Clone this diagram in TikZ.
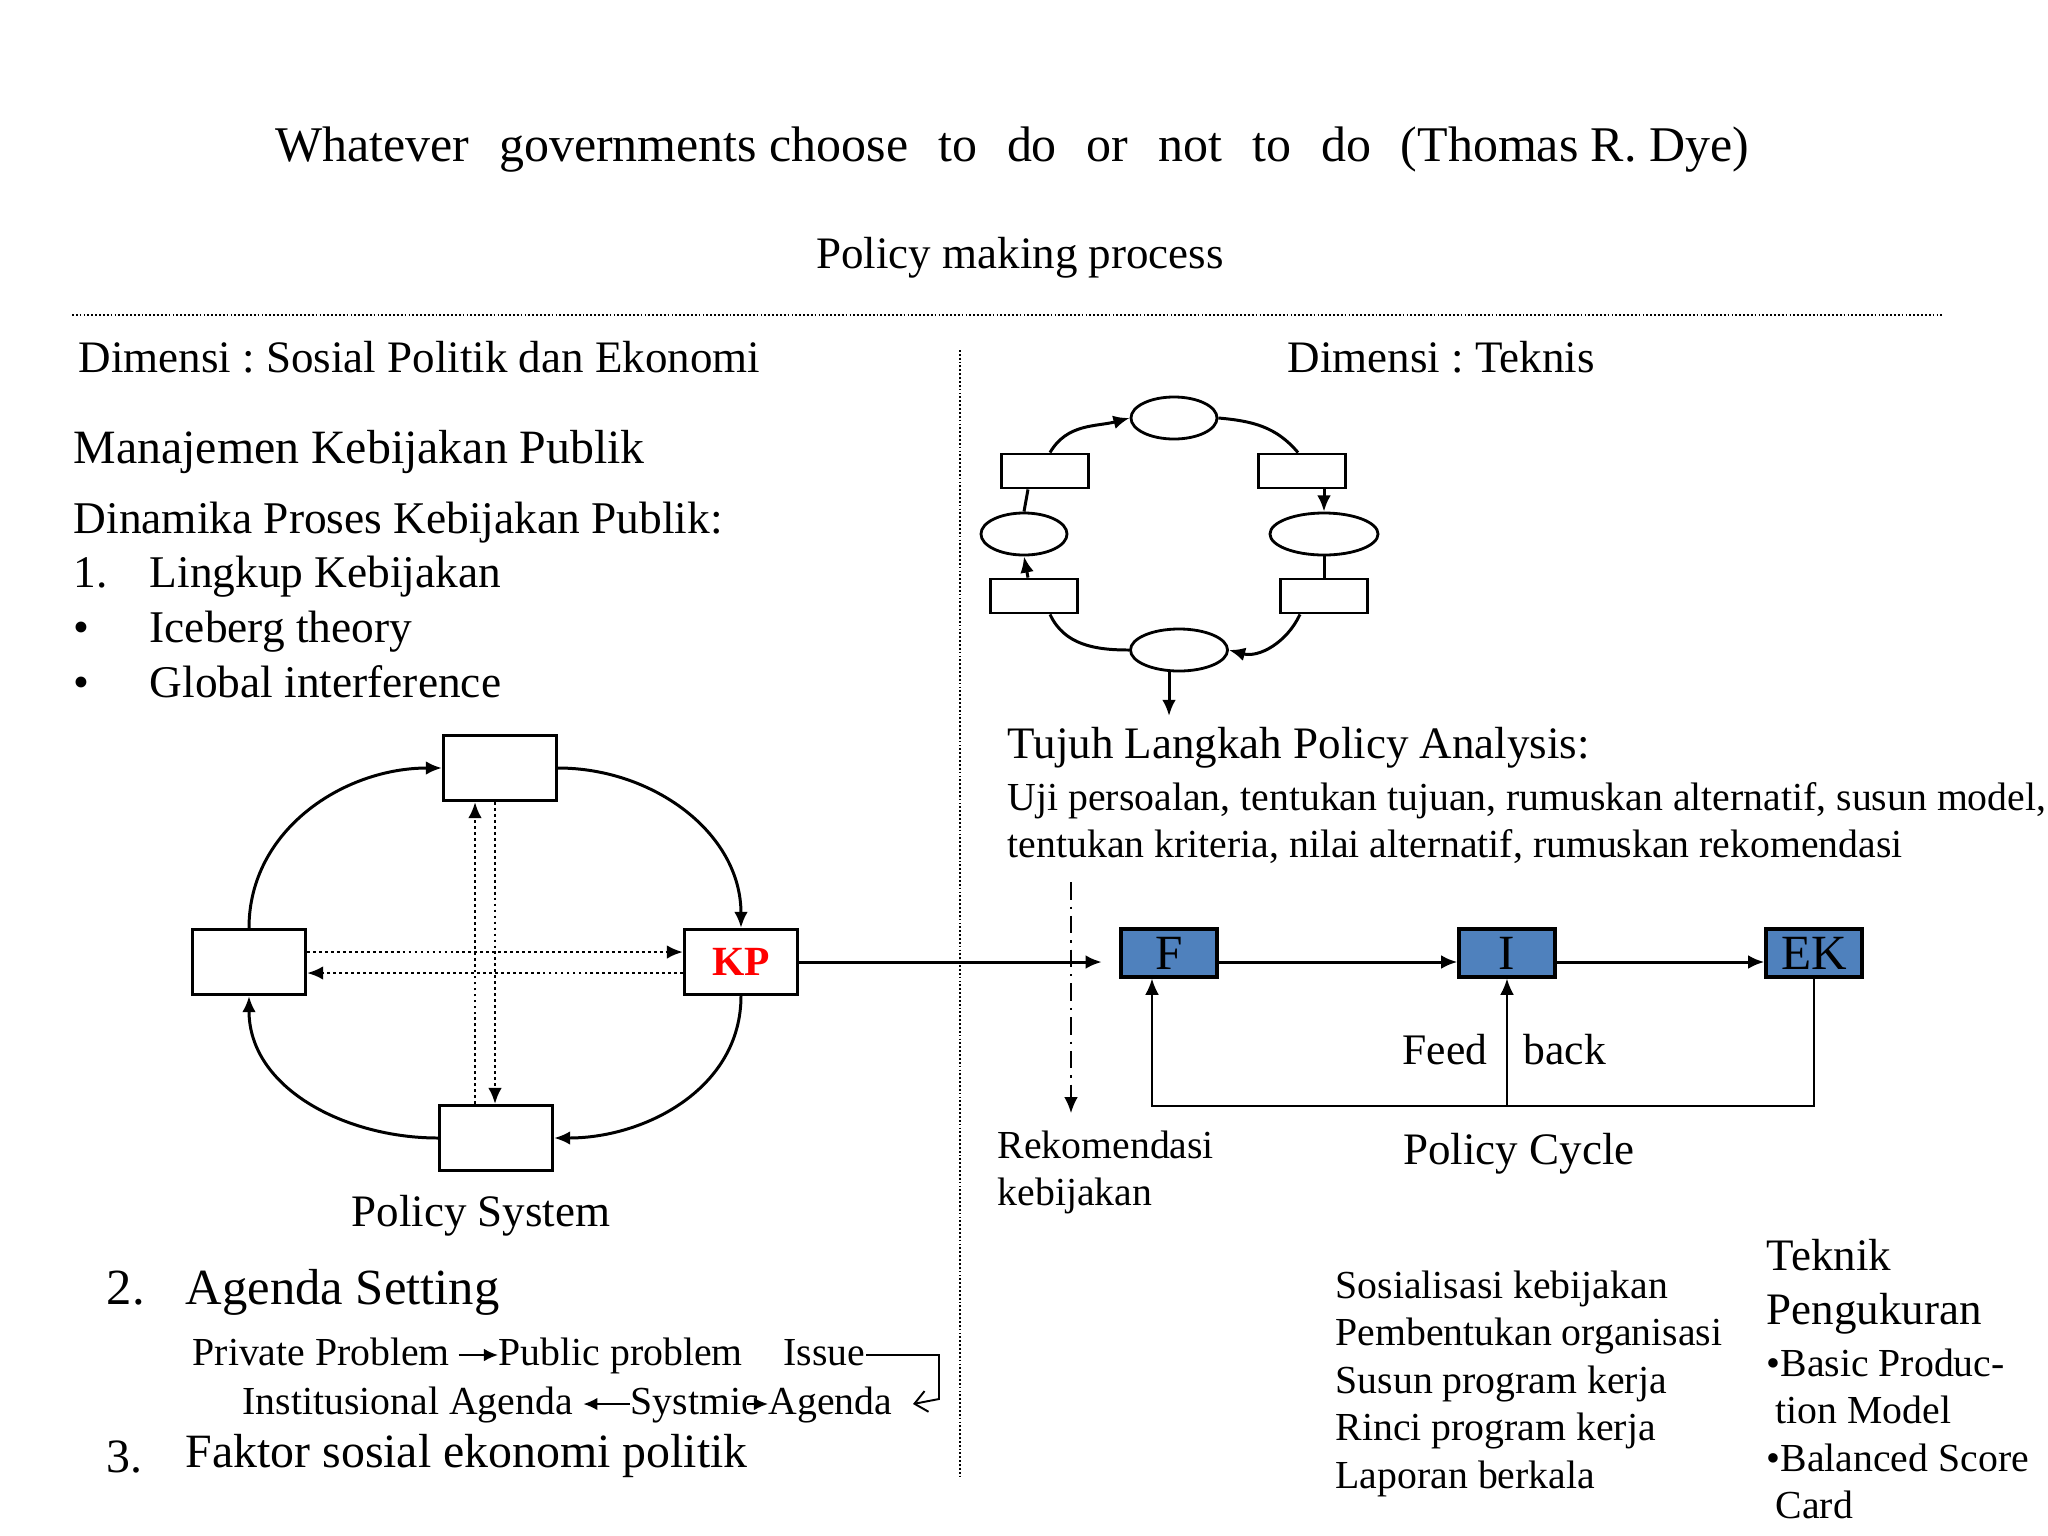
\documentclass[tikz,border=0pt]{standalone}
\usepackage{fontspec}
\setmainfont{Liberation Serif}
\usepackage{tikz}
\usetikzlibrary{arrows.meta,calc,positioning,shapes.geometric}
\frenchspacing

\definecolor{stageblue}{HTML}{4F81BD}
\newcommand{\szTitle}{\fontsize{14.2}{17}\selectfont}
\newcommand{\szHead}{\fontsize{12.8}{15}\selectfont}
\newcommand{\szBig}{\fontsize{13.6}{16}\selectfont}
\newcommand{\szList}{\fontsize{12.9}{15}\selectfont}
\newcommand{\szAgenda}{\fontsize{14.4}{17}\selectfont}
\newcommand{\szSmall}{\fontsize{11.3}{13.5}\selectfont}
\newcommand{\wgap}{\hspace{0.6em}}

\begin{document}
\begin{tikzpicture}[x=0.01cm, y=0.01cm, >={Latex[length=4.6pt,width=3.9pt]},
  lbl/.style={inner sep=0pt, anchor=west, text height=1.5ex, text depth=.25ex, yshift=-0.05cm},
  ctxt/.style={inner sep=0pt, text height=1.5ex, text depth=.25ex, yshift=-0.05cm},
  sysbox/.style={draw, line width=0.85pt, minimum width=1.13cm, minimum height=0.65cm, inner sep=0pt},
  cycbox/.style={draw, line width=0.8pt, minimum width=0.87cm, minimum height=0.34cm, inner sep=0pt},
  cycell/.style={draw, ellipse, line width=0.8pt, minimum height=0.42cm, inner sep=0pt},
  stagebox/.style={draw, line width=0.9pt, fill=stageblue, minimum width=0.96cm, minimum height=0.48cm,
                   inner sep=0pt, font=\fontsize{14}{16}\selectfont},
  link/.style={line width=0.85pt},
  fbline/.style={line width=0.55pt},
  dotline/.style={line width=0.8pt, dash pattern=on 0.8pt off 0.9pt},
  sepline/.style={line width=0.5pt, dash pattern=on 0.5pt off 0.6pt},
  smalltip/.style={-{Latex[length=4pt,width=3.6pt]}}]

  \path[use as bounding box, fill=white] (0,0) rectangle (2048,-1536);

  % heading
  \node[ctxt, font=\szTitle] (title) at (1012,-146)
    {Whatever\wgap governments choose\wgap to\wgap do\wgap or\wgap not\wgap to\wgap do\wgap (Thomas R. Dye)};
  \node[ctxt, font=\szHead] (pmp) at (1020,-253) {Policy making process};
  \coordinate (sepL) at (72,-315);
  \coordinate (sepR) at (1942,-315);
  \draw[sepline] (sepL) -- (sepR);
  \coordinate (midT) at (960,-350);
  \coordinate (midB) at (960,-1476);
  \draw[sepline] (midT) -- (midB);

  % left column
  \node[lbl, font=\szHead] (dimL) at (78,-357) {Dimensi : Sosial Politik dan Ekonomi};
  \node[lbl, font=\szBig] (mkp) at (73,-448) {Manajemen Kebijakan Publik};
  \node[lbl, font=\szList] (dpk) at (73,-518) {Dinamika Proses Kebijakan Publik:};
  \node[lbl, font=\szList] (n1) at (73,-572) {1.};
  \node[lbl, font=\szList] (lk) at (149,-572) {Lingkup Kebijakan};
  \node[lbl, font=\szList] (b1) at (73,-627) {\textbullet};
  \node[lbl, font=\szList] (ice) at (149,-627) {Iceberg theory};
  \node[lbl, font=\szList] (b2) at (73,-682) {\textbullet};
  \node[lbl, font=\szList] (gi) at (149,-682) {Global interference};

  % policy system
  \node[sysbox] (psTop) at (500,-768) {};
  \node[sysbox] (psLeft) at (249,-962) {};
  \node[sysbox, font=\bfseries\fontsize{11.8}{14}\selectfont, text=red] (kp) at (741,-962) {KP};
  \node[sysbox] (psBot) at (496,-1138) {};
  \draw[link,->] (psLeft.north) to[out=90,in=180] (psTop.west);
  \draw[link,->] (psTop.east) to[out=0,in=90] (kp.north);
  \draw[link,->] (kp.south) to[out=-90,in=0] (psBot.east);
  \draw[link,->] (psBot.west) to[out=180,in=-90] (psLeft.south);
  \coordinate (vUp) at (475,0);
  \coordinate (vDn) at (495,0);
  \coordinate (hRt) at (0,-952);
  \coordinate (hLt) at (0,-973);
  \draw[dotline,->] (psBot.north -| vUp) -- (psTop.south -| vUp);
  \draw[dotline,->] (psTop.south -| vDn) -- (psBot.north -| vDn);
  \draw[dotline,->] (psLeft.east |- hRt) -- (kp.west |- hRt);
  \draw[dotline,->] (kp.west |- hLt) -- (psLeft.east |- hLt);
  \node[ctxt, font=\szHead] (psys) at (481,-1211) {Policy System};

  % agenda setting
  \node[lbl, font=\szAgenda] (n2) at (106,-1289) {2.};
  \node[lbl, font=\szAgenda] (ags) at (185,-1289) {Agenda Setting};
  \node[lbl, font=\szSmall] (priv) at (192,-1350) {Private Problem};
  \node[lbl, font=\szSmall] (pub) at (498,-1350) {Public problem};
  \node[lbl, font=\szSmall] (issue) at (783,-1350) {Issue};
  \node[lbl, font=\szSmall] (inst) at (242,-1399) {Institusional Agenda};
  \node[lbl, font=\szSmall] (sysm) at (630,-1399) {Systmic};
  \node[lbl, font=\szSmall] (sagd) at (768,-1399) {Agenda};
  \coordinate (brk) at (939,-1399);
  \draw[fbline,smalltip] ([xshift=0.08cm]priv.east) -- (pub.west);
  \draw[fbline,smalltip] (sysm.west) -- ([xshift=0.1cm]inst.east);
  \draw[fbline,smalltip] ([xshift=-0.12cm]sysm.east) -- (sagd.west);
  \draw[fbline,-{Straight Barb[length=3.5pt,width=6pt]}] (issue.east) -- (issue.east -| brk) -- (brk)
    -- ([xshift=0.2cm]sagd.east);
  \node[lbl, font=\szBig] (n3) at (106,-1457) {3.};
  \node[lbl, font=\szBig] (fsep) at (185,-1452) {Faktor sosial ekonomi politik};

  % right column: analysis cycle
  \node[ctxt, font=\szHead] (dimR) at (1441,-357) {Dimensi : Teknis};
  \node[cycell, minimum width=0.86cm] (cTop) at (1174,-418) {};
  \node[cycbox] (cRtTop) at (1302,-471) {};
  \node[cycell, minimum width=1.08cm] (cRt) at (1324,-534) {};
  \node[cycbox] (cRtBot) at (1324,-596) {};
  \node[cycell, minimum width=0.97cm] (cBot) at (1179,-650) {};
  \node[cycbox] (cLtBot) at (1034,-596) {};
  \node[cycell, minimum width=0.86cm] (cLt) at (1024,-534) {};
  \node[cycbox] (cLtTop) at (1045,-471) {};
  \draw[link,->] ([xshift=0.05cm]cLtTop.north) to[out=60,in=195] (cTop.west);
  \draw[link] (cTop.east) to[out=-5,in=130] ([xshift=-0.04cm]cRtTop.north);
  \draw[link,->] (cRt.north |- cRtTop.south) -- (cRt.north);
  \draw[link] (cRt.south) -- (cRtBot.north);
  \draw[link,->] ([xshift=-0.24cm]cRtBot.south) to[out=-115,in=-15] (cBot.east);
  \draw[link] (cBot.west) to[out=180,in=-65] ([xshift=0.16cm]cLtBot.south);
  \draw[link,->] ([xshift=-0.06cm]cLtBot.north) -- (cLt.south);
  \draw[link] (cLt.north) -- ([xshift=-0.17cm]cLtTop.south);
  \coordinate (tlEnd) at (1169,-716);
  \draw[link,->] (cBot.south -| tlEnd) -- (tlEnd);

  \node[lbl, font=\szHead] (tla) at (1007,-743) {Tujuh Langkah Policy Analysis:};
  \node[lbl, font=\szSmall] (uji1) at (1007,-795) {Uji persoalan, tentukan tujuan, rumuskan alternatif, susun model,};
  \node[lbl, font=\szSmall] (uji2) at (1007,-842) {tentukan kriteria, nilai alternatif, rumuskan rekomendasi};

  % policy cycle
  \node[stagebox] (stF) at (1169,-953) {F};
  \node[stagebox] (stI) at (1507,-953) {I};
  \node[stagebox] (stEK) at (1814,-953) {EK};
  \draw[link,->,shorten >=5pt] (kp.east) -- (kp.east -| stF.west);
  \draw[link,->] (stF.east |- kp) -- (stI.west |- kp);
  \draw[link,->] (stI.east |- kp) -- (stEK.west |- kp);
  \coordinate (fbF) at (1152,-1106);
  \draw[fbline,->] (stEK.south) |- (fbF) -- (fbF |- stF.south);
  \draw[fbline,->] (stI.south |- fbF) -- (stI.south);
  \node[lbl, font=\fontsize{12.4}{15}\selectfont, anchor=east] (feed) at (1488,-1049) {Feed};
  \node[lbl, font=\fontsize{12.4}{15}\selectfont] (back) at (1523,-1049) {back};
  \node[ctxt, font=\szHead] (pcyc) at (1519,-1149) {Policy Cycle};

  % recommendation
  \node[lbl, font=\szSmall] (rek1) at (997,-1143) {Rekomendasi};
  \node[lbl, font=\szSmall] (rek2) at (997,-1190) {kebijakan};
  \coordinate (rkTop) at (1071,-882);
  \draw[fbline, dash pattern=on 5pt off 2pt on 0.6pt off 2pt,->] (rkTop) -- ([yshift=0.2cm]rkTop |- rek1.north);

  % implementation steps
  \node[lbl, font=\szSmall] (imp1) at (1335,-1283) {Sosialisasi kebijakan};
  \node[lbl, font=\szSmall] (imp2) at (1335,-1330) {Pembentukan organisasi};
  \node[lbl, font=\szSmall] (imp3) at (1335,-1378) {Susun program kerja};
  \node[lbl, font=\szSmall] (imp4) at (1335,-1425) {Rinci program kerja};
  \node[lbl, font=\szSmall] (imp5) at (1335,-1473) {Laporan berkala};

  % measurement
  \node[lbl, font=\szHead] (tek1) at (1766,-1255) {Teknik};
  \node[lbl, font=\szHead] (tek2) at (1766,-1309) {Pengukuran};
  \node[lbl, font=\szSmall] (bpm1) at (1766,-1361) {\textbullet Basic Produc-};
  \node[lbl, font=\szSmall] (bpm2) at (1775,-1408) {tion Model};
  \node[lbl, font=\szSmall] (bsc1) at (1766,-1456) {\textbullet Balanced Score};
  \node[lbl, font=\szSmall] (bsc2) at (1775,-1503) {Card};
\end{tikzpicture}
\end{document}
